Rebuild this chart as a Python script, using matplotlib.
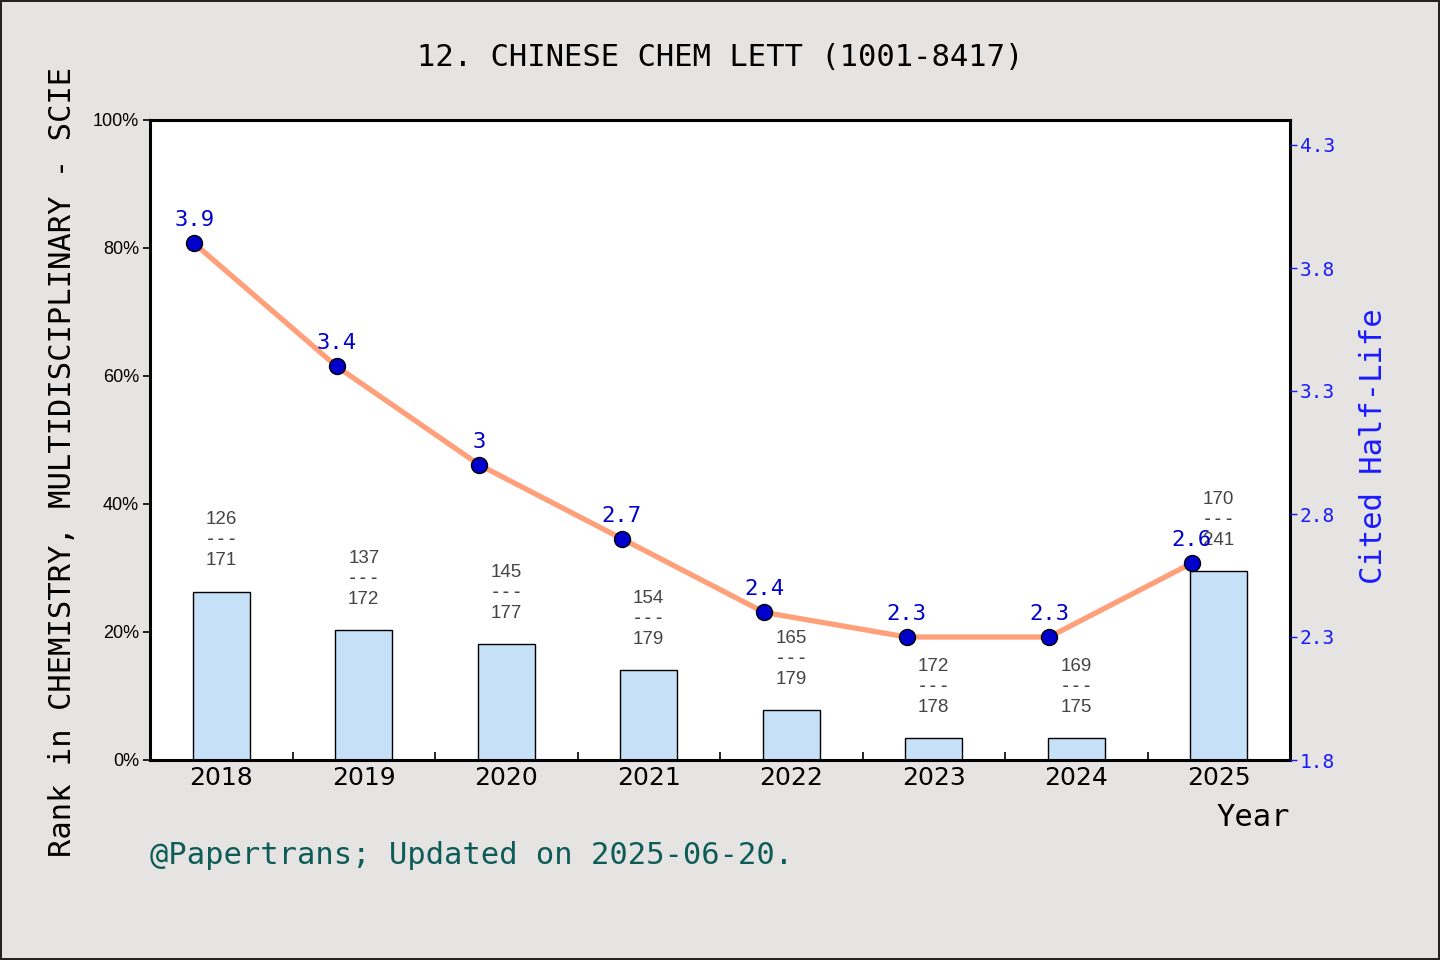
import matplotlib
matplotlib.use("Agg")
import matplotlib.pyplot as plt
from matplotlib.ticker import FixedLocator, FuncFormatter

# Data
years = ["2018", "2019", "2020", "2021", "2022", "2023", "2024", "2025"]
rank = [126, 137, 145, 154, 165, 172, 169, 170]
total = [171, 172, 177, 179, 179, 178, 175, 241]
rank_pct = [26.3, 20.3, 18.1, 14.0, 7.8, 3.4, 3.4, 29.5]
half_life = [3.9, 3.4, 3.0, 2.7, 2.4, 2.3, 2.3, 2.6]
right_ticks = [1.8, 2.3, 2.8, 3.3, 3.8, 4.3]

BG = "#e5e4e2"
MONO = "DejaVu Sans Mono"


def rank_label(ax, xi, h, r, t):
    # "rank / total" stacked above each bar
    kw = dict(textcoords="offset pixels", ha="center", va="center",
              color="#444444", zorder=5)
    ax.annotate(str(r), (xi, h), xytext=(0, 72), fontsize=13.5,
                family="Liberation Sans", **kw)
    ax.annotate("---", (xi, h), xytext=(0, 52), fontsize=13.5,
                family=MONO, **kw)
    ax.annotate(str(t), (xi, h), xytext=(0, 31), fontsize=13.5,
                family="Liberation Sans", **kw)


def main():
    fig = plt.figure(figsize=(14.4, 9.6), dpi=100, facecolor=BG,
                     edgecolor="#222222", linewidth=1.5)
    ax = fig.add_axes([150 / 1440, 1 - 760 / 960, 1140 / 1440, 640 / 960])
    ax.set_facecolor("white")

    x = list(range(len(years)))

    # bars of rank percentile
    ax.bar(x, rank_pct, width=0.4, color="#c5e0f7", edgecolor="black",
           linewidth=1.0, zorder=2)
    for xi, h, r, t in zip(x, rank_pct, rank, total):
        rank_label(ax, xi, h, r, t)

    ax.set_xlim(-0.5, len(years) - 0.5)
    ax.set_ylim(0, 100)
    ax.set_xticks(x)
    ax.set_xticklabels(years, fontsize=18, family="DejaVu Sans")
    ax.xaxis.set_minor_locator(FixedLocator([i + 0.5 for i in x[:-1]]))
    ax.tick_params(axis="x", which="major", length=0, pad=4)
    ax.tick_params(axis="x", which="minor", direction="in", length=6,
                   width=1.2, color="black")
    ax.set_yticks([0, 20, 40, 60, 80, 100])
    ax.yaxis.set_major_formatter(FuncFormatter(lambda v, p: f"{v:.0f}%"))
    ax.tick_params(axis="y", direction="out", length=5, width=1.2, pad=3)
    for lab in ax.get_yticklabels():
        lab.set_family("Liberation Sans")
        lab.set_fontsize(13)

    for side in ["left", "top", "right", "bottom"]:
        ax.spines[side].set_linewidth(2.2)
        ax.spines[side].set_color("black")

    # cited half-life line
    ax2 = ax.twinx()
    xl = [xi - 0.19 for xi in x]
    ax2.plot(xl, half_life, color="#ffa07a", linewidth=3.8, zorder=3)
    ax2.plot(xl, half_life, linestyle="none", marker="o", markersize=11.5,
             markerfacecolor="#0000cc", markeredgecolor="black",
             markeredgewidth=1.0, zorder=4)
    for xi, v in zip(xl, half_life):
        ax2.annotate(f"{v:g}", (xi, v), xytext=(0, 13),
                     textcoords="offset pixels", ha="center", va="bottom",
                     fontsize=16, color="#0000cc", family=MONO, zorder=6)
    ax2.set_ylim(1.8, 1.8 + 640 / 246)
    ax2.set_yticks(right_ticks)
    ax2.set_yticklabels([f"{v:.1f}" for v in right_ticks], fontsize=14,
                        family=MONO, color="#1a1aff")
    ax2.tick_params(axis="y", direction="out", length=5, width=1.0,
                    color="#1a1aff", pad=2)
    for side in ["left", "top", "right", "bottom"]:
        ax2.spines[side].set_visible(False)

    # texts around the axes
    fig.text(720 / 1440, 1 - 57 / 960, "12. CHINESE CHEM LETT (1001-8417)",
             ha="center", va="center", fontsize=22, family=MONO)
    fig.text(63 / 1440, 1 - 462 / 960,
             "Rank in CHEMISTRY, MULTIDISCIPLINARY - SCIE",
             ha="center", va="center", rotation=90, fontsize=22, family=MONO)
    fig.text(1373 / 1440, 1 - 446 / 960, "Cited Half-Life",
             ha="center", va="center", rotation=90, fontsize=22,
             family=MONO, color="#1a1aff")
    fig.text(1290 / 1440, 1 - 817 / 960, "Year", ha="right", va="center",
             fontsize=22, family=MONO)
    fig.text(150 / 1440, 1 - 855 / 960, "@Papertrans; Updated on 2025-06-20.",
             ha="left", va="center", fontsize=22, family=MONO,
             color="#0e5c57")

    fig.savefig("out.png", dpi=100, facecolor=BG, edgecolor="#222222")


if __name__ == "__main__":
    main()
